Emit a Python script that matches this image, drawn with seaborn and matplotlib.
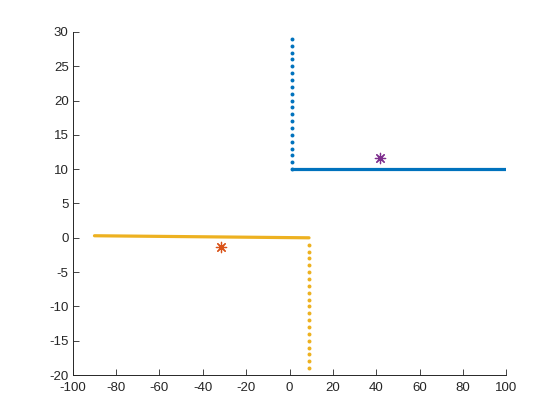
import matplotlib
matplotlib.use("Agg")
import matplotlib.pyplot as plt
import seaborn as sns

sns.set_style("ticks")
plt.rcParams["font.family"] = ["Liberation Sans", "DejaVu Sans"]
plt.rcParams["axes.unicode_minus"] = False

# blue path: dotted vertical part and solid horizontal part
blue_vert_x = [1] * 20
blue_vert_y = [10, 11, 12, 13, 14, 15, 16, 17, 18, 19,
               20, 21, 22, 23, 24, 25, 26, 27, 28, 29]
blue_horiz_x = [1, 100]
blue_horiz_y = [10, 10]

# yellow path: solid horizontal part and dotted vertical part
yellow_horiz_x = [-90, 9]
yellow_horiz_y = [0.3, 0.0]
yellow_vert_x = [9] * 19
yellow_vert_y = [-1, -2, -3, -4, -5, -6, -7, -8, -9, -10,
                 -11, -12, -13, -14, -15, -16, -17, -18, -19]

# star markers
purple_pt = ([41.8], [11.6])
orange_pt = ([-31.6], [-1.4])

blue = "#0072BD"
yellow = "#EDB120"
orange = "#D95319"
purple = "#7E2F8E"

fig = plt.figure(figsize=(5.6, 4.2), dpi=100)
ax = fig.add_axes([0.13, 0.107, 0.774, 0.817])

sns.lineplot(x=blue_horiz_x, y=blue_horiz_y, color=blue, linewidth=2.3, sort=False, ax=ax)
sns.scatterplot(x=blue_vert_x, y=blue_vert_y, color=blue, s=8, linewidth=0, ax=ax)
sns.lineplot(x=yellow_horiz_x, y=yellow_horiz_y, color=yellow, linewidth=2.3, sort=False, ax=ax)
sns.scatterplot(x=yellow_vert_x, y=yellow_vert_y, color=yellow, s=8, linewidth=0, ax=ax)

# MATLAB-like asterisks
star = (8, 2, 0)
ax.scatter(purple_pt[0], purple_pt[1], marker=star, s=55, linewidths=0.9,
           color=purple, zorder=5)
ax.scatter(orange_pt[0], orange_pt[1], marker=star, s=55, linewidths=0.9,
           color=orange, zorder=5)

ax.set_xlim(-100, 100)
ax.set_ylim(-20, 30)
ax.set_xticks(range(-100, 101, 20))
ax.set_yticks(range(-20, 31, 5))
ax.tick_params(direction="in", length=4, width=0.6, labelsize=9.5,
               colors="#262626", labelcolor="#262626")
ax.tick_params(axis="x", pad=5)
ax.tick_params(axis="y", pad=3)
for side in ["top", "right"]:
    ax.spines[side].set_visible(False)
for side in ["left", "bottom"]:
    ax.spines[side].set_color("#262626")
    ax.spines[side].set_linewidth(0.7)

fig.savefig("out.png", dpi=100)
